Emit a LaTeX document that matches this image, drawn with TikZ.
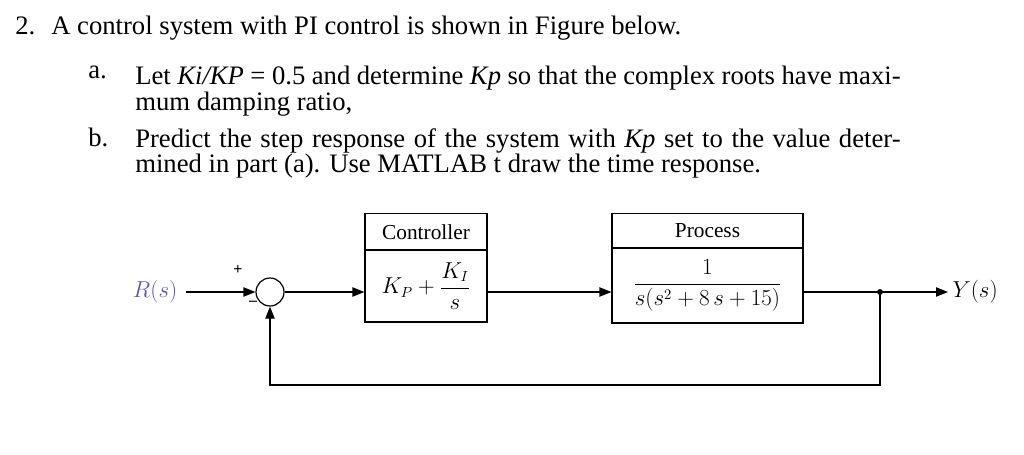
\documentclass[tikz,border=0pt]{standalone}
\usepackage{amsmath}
\usepackage{fontspec}
\setmainfont{Liberation Serif}
\usetikzlibrary{arrows.meta}
\begin{document}
\begin{tikzpicture}[x=0.75pt,y=-0.75pt,
  txt/.style={inner sep=0pt,anchor=north west,font=\fontsize{20}{17.3}\selectfont,align=justify},
  blk/.style={draw,line width=0.9pt,inner sep=0pt},
  lbl/.style={font=\fontsize{16}{18}\selectfont},
  ln/.style={line width=0.9pt},
  arr/.style={ln,-{Triangle[length=9pt,width=7pt]}}]
\useasboundingbox (0,0) rectangle (1024,454);
\node[txt] (q) at (15,16) {2.\hspace{0.6em}A control system with PI control is shown in Figure below.};
\node[txt] (la) at (88,66) {a.};
\node[txt,text width=574pt] (ta) at (135,66) {Let \textit{Ki/KP} = 0.5 and determine \textit{Kp} so that the complex roots have maximum damping ratio,};
\node[txt] (lb) at (88,128) {b.};
\node[txt,text width=574pt] (tb) at (135,128) {Predict the step response of the system with \textit{Kp} set to the value determined in part (a). Use MATLAB t draw the time response.};
% blocks
\node[blk,minimum width=91.5pt,minimum height=27.75pt] (ch) at (426,232) {};
\node[lbl] at (ch) {Controller};
\node[blk,minimum width=91.5pt,minimum height=54pt] (cb) at (426,286) {};
\node[lbl] at (cb) {$K_P+\dfrac{K_I}{s}$};
\node[blk,minimum width=143.25pt,minimum height=26.25pt] (ph) at (707.5,231) {};
\node[lbl] at (ph) {Process};
\node[blk,minimum width=143.25pt,minimum height=56.25pt] (pb) at (707.5,285.5) {};
\node[lbl] at (pb) {$\dfrac{1}{s(s^2+8\,s+15)}$};
\node[draw,circle,ln,minimum size=21pt,inner sep=0pt] (sum) at (270,292) {};
\node[lbl,text=gray!70!blue,anchor=east] (r) at (182,292) {$R(s)$};
\node[lbl,anchor=west] (y) at (948,292) {$Y(s)$};
\node[font=\bfseries\large] at (238,270) {+};
\node[font=\bfseries\large] at (253,303) {--};
\coordinate (br) at (880,292);
\coordinate (bd) at (880,385);
\coordinate (bl) at (270,385);
\draw[arr] (r.east)++(4,0) -- (sum.west);
\draw[arr] (sum.east) -- (cb.west |- sum);
\draw[arr] (cb.east |- sum) -- (pb.west |- sum);
\draw[arr] (pb.east |- sum) -- (y.west);
\fill (br) circle (2.2pt);
\draw[arr] (br) -- (bd) -- (bl) -- (sum.south);
\end{tikzpicture}
\end{document}
